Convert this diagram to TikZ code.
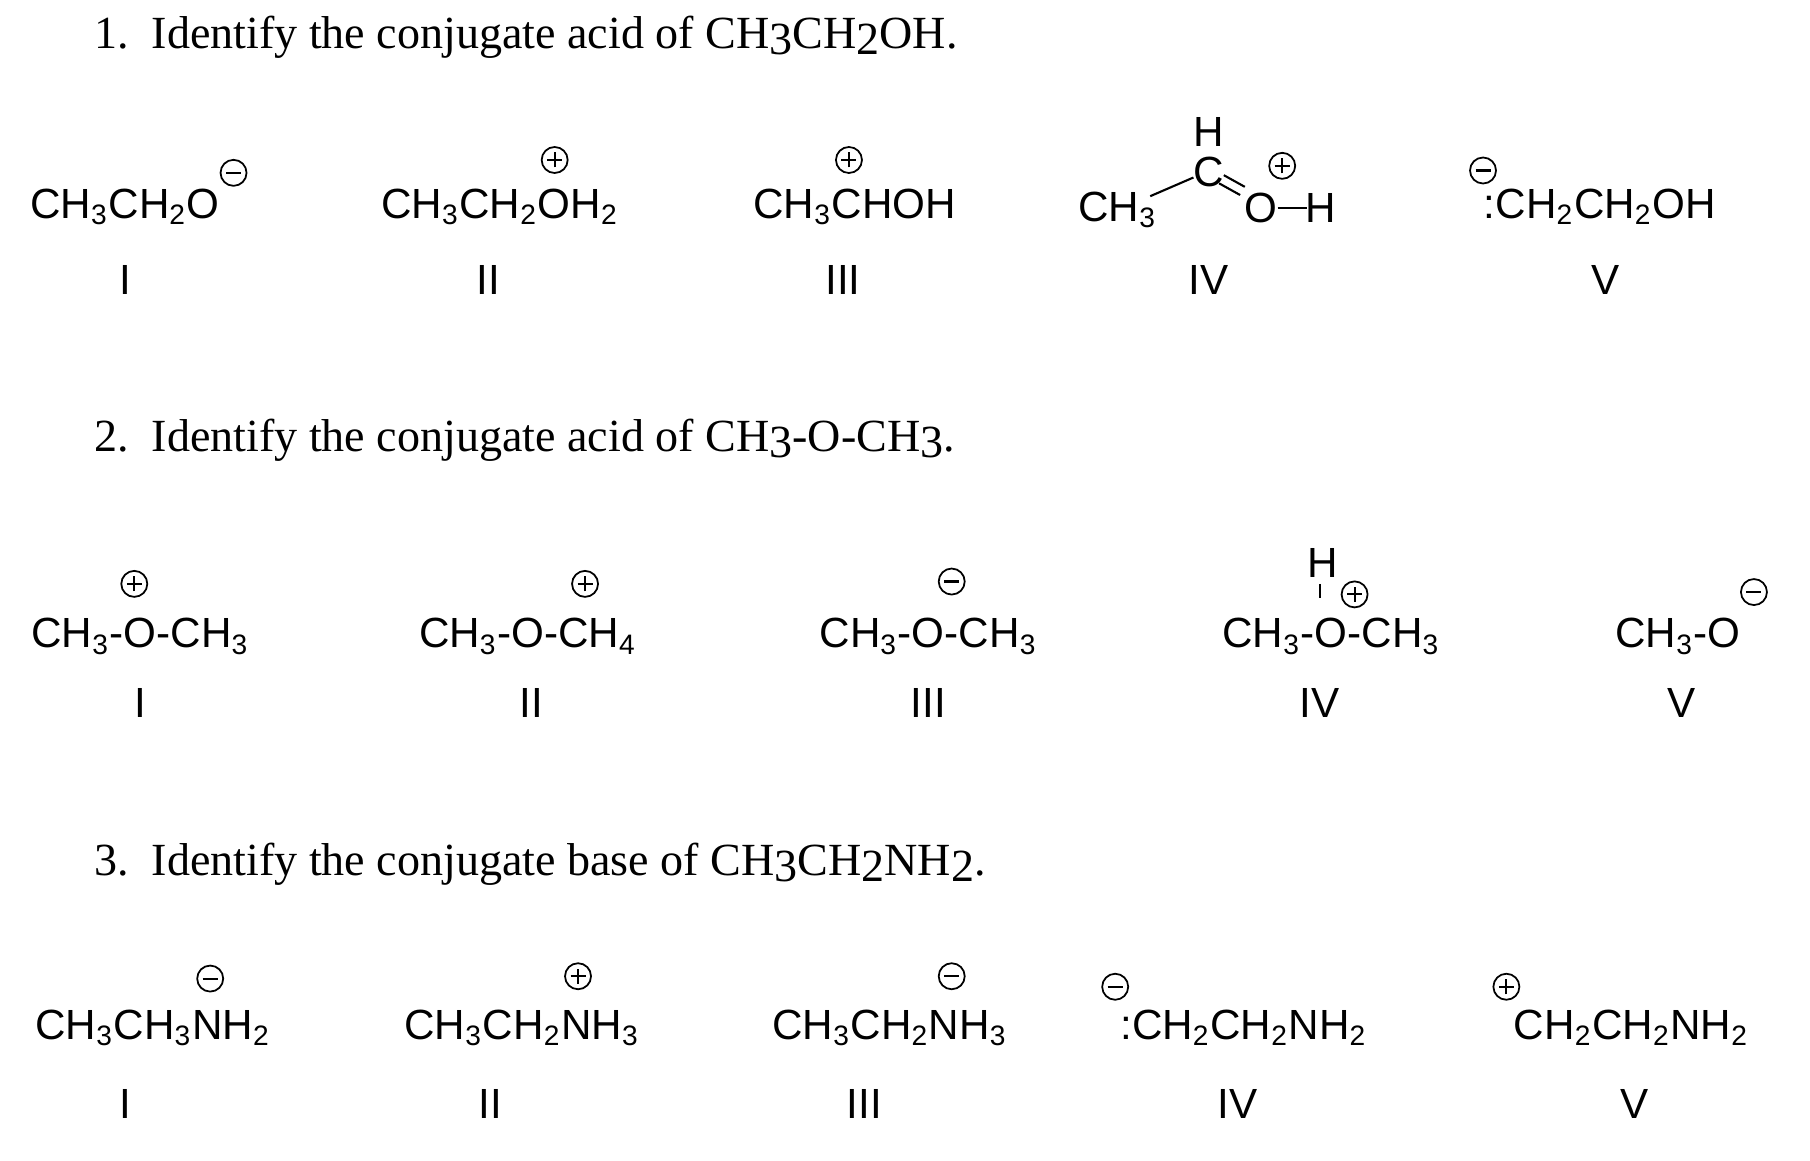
\documentclass[tikz,border=0pt]{standalone}
\usepackage{fontspec}
\setmainfont{Liberation Serif}
\newfontfamily\hv{Liberation Sans}
\newcommand{\lo}[1]{\textsubscript{#1}}
\newcommand{\hl}[1]{\raisebox{-0.3ex}{#1}}
\begin{document}
\begin{tikzpicture}[x=0.01168cm,y=-0.01168cm,
  head/.style={anchor=west,font=\fontsize{13.1}{15}\selectfont,inner sep=0},
  mol/.style={font=\hv\fontsize{12}{14}\selectfont,inner sep=0},
  num/.style={font=\hv\fontsize{12}{14}\selectfont,inner sep=0},
  chg/.style={circle,draw,line width=0.5pt,inner sep=0,minimum size=0.26cm},
  poschg/.style={chg,path picture={\draw[line width=0.6pt] ([xshift=-0.075cm]path picture bounding box.center) -- ([xshift=0.075cm]path picture bounding box.center);
     \draw[line width=0.6pt] ([yshift=-0.075cm]path picture bounding box.center) -- ([yshift=0.075cm]path picture bounding box.center);}},
  negchg/.style={chg,path picture={\draw[line width=0.6pt] ([xshift=-0.075cm]path picture bounding box.center) -- ([xshift=0.075cm]path picture bounding box.center);}},
  bond/.style={line width=0.6pt}]
\useasboundingbox (0,0) rectangle (1550,994);
% headings
\node[head] (h1) at (80,32) {1.\ \ Identify the conjugate acid of CH\hl{3}CH\hl{2}OH.};
\node[head] (h2) at (80,377) {2.\ \ Identify the conjugate acid of CH\hl{3}-O-CH\hl{3}.};
\node[head] (h3) at (80,740) {3.\ \ Identify the conjugate base of CH\hl{3}CH\hl{2}NH\hl{2}.};
% row 1
\node[mol] (a1) at (107,177) {CH\lo{3}CH\lo{2}O};
\node[negchg] (ac1) at (200,148) {};
\node[mol] (a2) at (428,177) {CH\lo{3}CH\lo{2}OH\lo{2}};
\node[poschg] (ac2) at (475,137) {};
\node[mol] (a3) at (732,177) {CH\lo{3}CHOH};
\node[poschg] (ac3) at (727,137) {};
\node[mol] (a4a) at (957,180) {CH\lo{3}};
\node[mol] (a4c) at (1035,147) {C};
\node[mol] (a4h) at (1035,113) {H};
\node[mol] (a4o) at (1080,178) {O};
\node[mol] (a4h2) at (1131,178) {H};
\node[poschg] (ac4) at (1098,142) {};
\draw[bond] (985,168) -- (1022,152);
\draw[bond] (1048,150) -- (1066,160);
\draw[bond] (1044,157) -- (1062,167);
\draw[bond] (1094,178) -- (1119,178);
\node[mol] (a5) at (1370,177) {:CH\lo{2}CH\lo{2}OH};
\node[negchg] (ac5) at (1270,146) {};
\foreach \x/\t [count=\i] in {107/I,418/II,722/III,1035/IV,1375/V}
  \node[num] (an\i) at (\x,240) {\t};
% row 2
\node[mol] (b1) at (120,545) {CH\lo{3}-O-CH\lo{3}};
\node[poschg] (bc1) at (115,500) {};
\node[mol] (b2) at (452,545) {CH\lo{3}-O-CH\lo{4}};
\node[poschg] (bc2) at (501,500) {};
\node[mol] (b3) at (795,545) {CH\lo{3}-O-CH\lo{3}};
\node[negchg] (bc3) at (815,498) {};
\node[mol] (b4) at (1140,545) {CH\lo{3}-O-CH\lo{3}};
\node[mol] (b4h) at (1133,482) {H};
\draw[bond] (1130,500) -- (1130,512);
\node[poschg] (bc4) at (1160,509) {};
\node[mol] (b5) at (1437,545) {CH\lo{3}-O};
\node[negchg] (bc5) at (1502,507) {};
\foreach \x/\t [count=\i] in {120/I,455/II,795/III,1130/IV,1440/V}
  \node[num] (bn\i) at (\x,602) {\t};
% row 3
\node[mol] (c1) at (131,880) {CH\lo{3}CH\lo{3}NH\lo{2}};
\node[negchg] (cc1) at (180,838) {};
\node[mol] (c2) at (447,880) {CH\lo{3}CH\lo{2}NH\lo{3}};
\node[poschg] (cc2) at (495,836) {};
\node[mol] (c3) at (762,880) {CH\lo{3}CH\lo{2}NH\lo{3}};
\node[negchg] (cc3) at (815,836) {};
\node[mol] (c4) at (1065,880) {:CH\lo{2}CH\lo{2}NH\lo{2}};
\node[negchg] (cc4) at (955,845) {};
\node[mol] (c5) at (1397,880) {CH\lo{2}CH\lo{2}NH\lo{2}};
\node[poschg] (cc5) at (1290,845) {};
\foreach \x/\t [count=\i] in {107/I,420/II,740/III,1060/IV,1400/V}
  \node[num] (cn\i) at (\x,945) {\t};
\end{tikzpicture}
\end{document}
